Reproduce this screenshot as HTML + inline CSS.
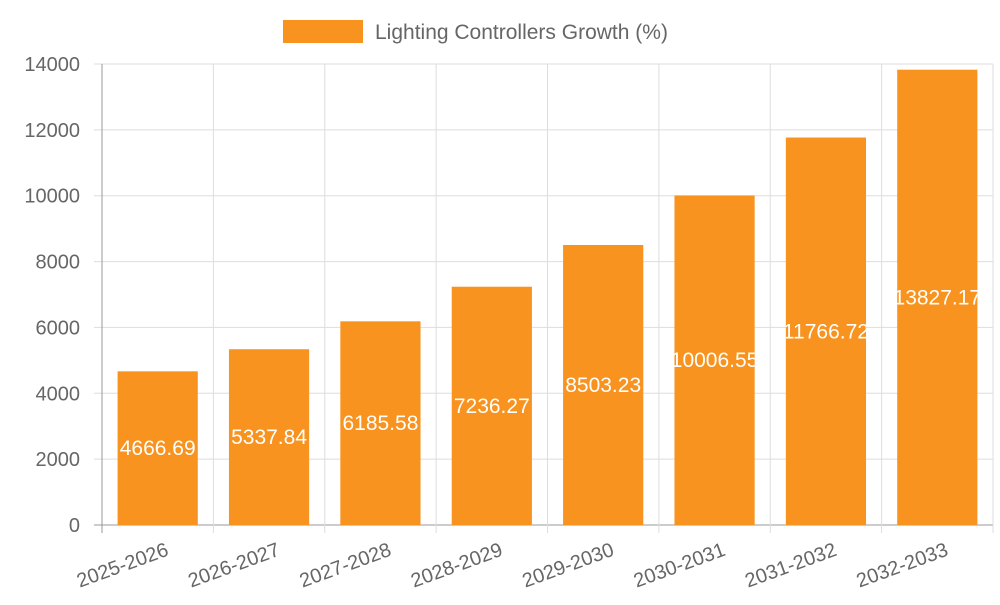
<!DOCTYPE html>
<html><head><meta charset="utf-8"><style>
body{margin:0;background:#fff;}
svg text{font-family:"Liberation Sans",sans-serif;}
</style></head><body>
<svg id="chart" width="1000" height="600" xmlns="http://www.w3.org/2000/svg">
<g>
<rect x="283" y="20" width="80" height="23" fill="#f7931e"/>
<text x="375" y="39" font-size="21" fill="#666">Lighting Controllers Growth (%)</text>
</g>
<g id="grid"></g><g id="bars"></g><g id="labels"></g>
</svg>
<script>
const categories=["2025-2026","2026-2027","2027-2028","2028-2029","2029-2030","2030-2031","2031-2032","2032-2033"];
const values=[4666.69,5337.84,6185.58,7236.27,8503.23,10006.55,11766.72,13827.17];
const yTicks=[0,2000,4000,6000,8000,10000,12000,14000];
const L=102,R=993,T=64,B=525,yMax=14000;
const svg=document.getElementById('chart');
const NS='http://www.w3.org/2000/svg';
const y=v=>B-(v/yMax)*(B-T);
const bw=(R-L)/categories.length;
const x=i=>L+i*bw;
function mk(tag,attrs,parent){const e=document.createElementNS(NS,tag);for(const k in attrs)e.setAttribute(k,attrs[k]);parent.appendChild(e);return e;}
const grid=document.getElementById('grid');
yTicks.forEach(t=>{
 const l=mk('line',{x1:L-8,x2:R,y1:y(t),y2:y(t),stroke:t===0?'#999':'#ddd','stroke-width':1},grid);
 
 
 const tx=mk('text',{x:L-22,y:y(t)+7,'text-anchor':'end','font-size':20,fill:'#666'},grid);
 tx.textContent=t;
 
 
});
for(let i=0;i<=categories.length;i++){
 const l=mk('line',{x1:x(i),x2:x(i),y1:T,y2:B+8,stroke:i===0?'#999':'#ddd','stroke-width':1},grid);
 
 
}
const bars=document.getElementById('bars');
const defs=mk('defs',{},svg);
categories.forEach((c,i)=>{
 const cx=x(i)+bw/2,w=bw*0.72;
 const r=mk('rect',{x:cx-w/2,y:y(values[i]),width:w,height:B-y(values[i]),fill:'#f7931e'},bars);
 
 
 const cp=mk('clipPath',{id:'cp'+i},defs);
 mk('rect',{x:cx-w/2,y:y(values[i]),width:w,height:B-y(values[i])},cp);
 const t=mk('text',{x:cx,y:(y(values[i])+B)/2+7,'text-anchor':'middle','font-size':21,fill:'#fff','clip-path':'url(#cp'+i+')'},bars);
 t.textContent=values[i];
 
 
 const xl=mk('text',{transform:`translate(${cx+12},${B+30}) rotate(-20)`,'text-anchor':'end','font-size':20,fill:'#666'},document.getElementById('labels'));
 xl.textContent=c;
 
 
});
</script>
</body></html>
